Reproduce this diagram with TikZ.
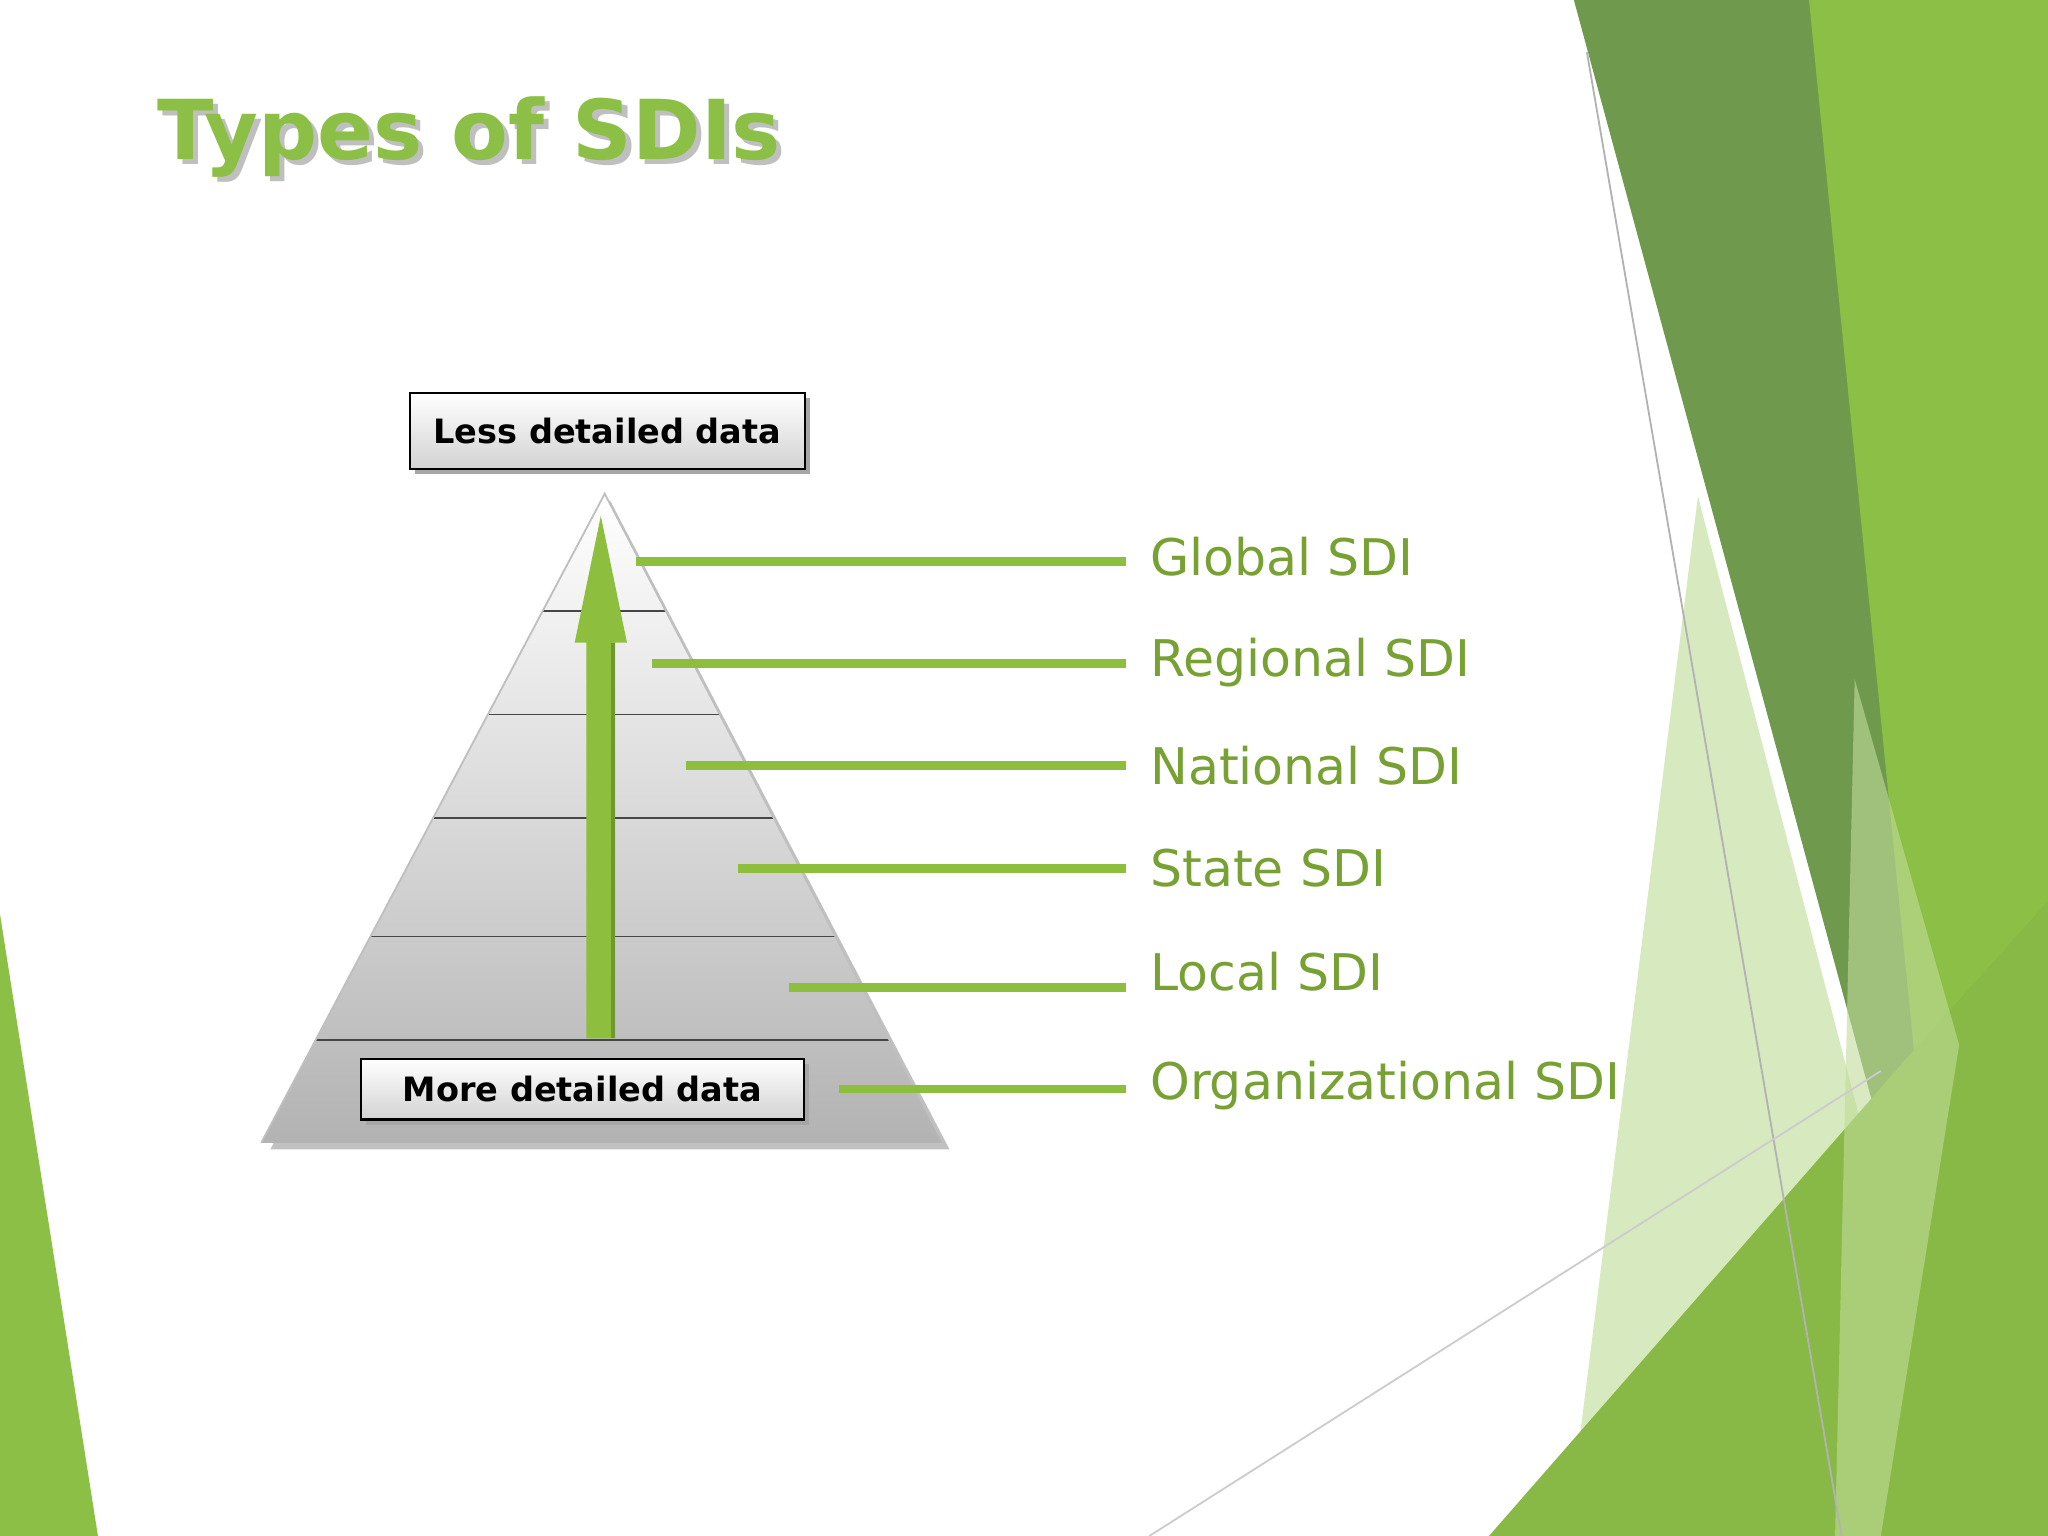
\documentclass[tikz,border=0pt]{standalone}
\usepackage{fontspec}
\setmainfont{DejaVu Sans}
\usetikzlibrary{arrows.meta,shadows}
\definecolor{lg}{HTML}{8DBE3D}
\definecolor{dg}{HTML}{6F9A4E}
\definecolor{tg}{HTML}{8CBF45}
\tikzset{
 lvl/.style={draw=lg,line width=1.8pt},
 lab/.style={anchor=west,text=lg!85!black,font=\fontsize{11}{13}\selectfont,inner sep=0},
 ttl/.style={anchor=west,font=\bfseries\fontsize{18}{22}\selectfont,inner sep=0},
 box/.style={draw=black,line width=0.5pt,top color=white,bottom color=gray!35,font=\bfseries\fontsize{7.3}{9}\selectfont,drop shadow={shadow xshift=0.04cm,shadow yshift=-0.04cm,fill=gray!70,opacity=1}},
}
\begin{document}
\begin{tikzpicture}[x=0.01cm,y=-0.01cm]
\useasboundingbox (0,0) rectangle (1568,1176);
% right decoration
\fill[tg!35!white] (1300,380) -- (1430,880) -- (1330,1176) -- (1200,1176) -- cycle;
\fill[dg] (1205,0) -- (1390,0) -- (1475,820) -- (1450,905) -- cycle;
\fill[tg] (1385,0) -- (1568,0) -- (1568,1176) -- (1430,1176) -- (1470,850) -- cycle;
\fill[tg!85!dg] (1140,1176) -- (1460,810) -- (1568,690) -- (1568,1176) -- cycle;
\fill[tg!55!white,opacity=0.6] (1420,520) -- (1500,800) -- (1440,1176) -- (1405,1176) -- cycle;
\draw[gray!60,line width=0.4pt] (1215,40) -- (1410,1176);
\draw[gray!40,line width=0.4pt] (880,1176) -- (1440,820);
% left decoration
\fill[tg] (0,700) -- (75,1176) -- (0,1176) -- cycle;
% title
\node[ttl,text=gray!50] (titleshadow) at (124,109) {Types of SDIs};
\node[ttl,text=tg] (title) at (120,105) {Types of SDIs};
% pyramid
\fill[gray!60,opacity=0.8] (207,880) -- (467,383) -- (727,880) -- cycle;
\shade[top color=white,bottom color=gray!60] (200,875) -- (463,378) -- (722,875) -- cycle;
\foreach \y in {468,547,626,717,796}{
 \draw[gray!55!black,line width=0.4pt] ({463-0.5292*(\y-378)},\y) -- ({463+0.5211*(\y-378)},\y);
}
\draw[gray!50,line width=0.4pt] (200,875) -- (463,378) -- (722,875);
% arrow
\fill[lg] (449,795) -- (449,492) -- (440,492) -- (460,395) -- (480,492) -- (471,492) -- (471,795) -- cycle;
\fill[lg!60!black,opacity=0.5] (468,795) -- (468,492) -- (471,492) -- (471,795) -- cycle;
% boxes
\node[box,minimum width=3.02cm,minimum height=0.58cm] (less) at (465,330) {Less detailed data};
\node[box,minimum width=3.39cm,minimum height=0.46cm] (more) at (446,834) {More detailed data};
% labels
\node[lab] (g) at (880,426) {Global SDI};
\node[lab] (r) at (880,507) {Regional SDI};
\node[lab] (n) at (880,586) {National SDI};
\node[lab] (s) at (880,665) {State SDI};
\node[lab] (l) at (880,744) {Local SDI};
\node[lab] (o) at (880,831) {Organizational SDI};
\coordinate (pg) at (487,430); \coordinate (pr) at (499,508); \coordinate (pn) at (525,586);
\coordinate (ps) at (565,665); \coordinate (pl) at (604,756); \coordinate (po) at (642,834);
\draw[lvl] (pg) -- (862,430);
\draw[lvl] (pr) -- (862,508);
\draw[lvl] (pn) -- (862,586);
\draw[lvl] (ps) -- (862,665);
\draw[lvl] (pl) -- (862,756);
\draw[lvl] (po) -- (862,834);
\end{tikzpicture}
\end{document}
